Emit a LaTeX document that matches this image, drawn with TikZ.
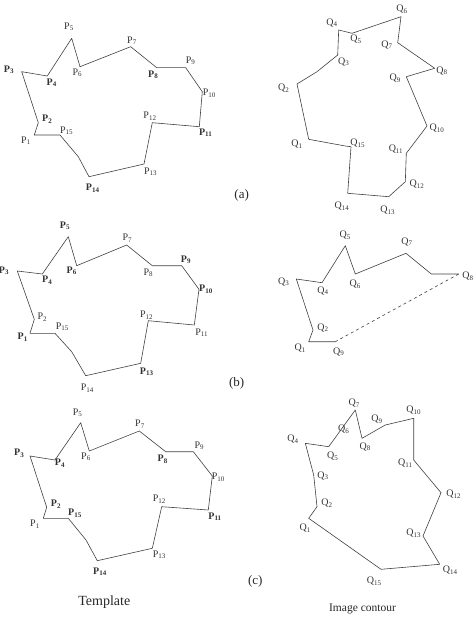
\documentclass[tikz,border=0pt]{standalone}
\usepackage{fontspec}
\setmainfont{Liberation Serif}
\newcommand\labP[1]{P\textsubscript{#1}}
\newcommand\labQ[1]{Q\textsubscript{#1}}
\begin{document}
\begin{tikzpicture}[x=1pt,y=-1pt,
  contour/.style={draw=black!75, line width=0.6pt, line join=round},
  lbl/.style={inner sep=0pt, font=\fontsize{10}{11}\selectfont, text=black!80},
  blbl/.style={lbl, font=\fontsize{10}{11}\selectfont\bfseries},
  captext/.style={inner sep=0pt, font=\fontsize{13}{14}\selectfont, text=black!85}]
\useasboundingbox (0,0) rectangle (474,623);

% ================= (a) template =================
\coordinate (aP1) at (34.3,135);
\coordinate (aP2) at (38.3,122.7);
\coordinate (aP3) at (21.7,71.7);
\coordinate (aP4) at (47.3,76);
\coordinate (aP5) at (71.7,38.3);
\coordinate (aP6) at (80,66.7);
\coordinate (aP7) at (130.7,46.7);
\coordinate (aP8) at (156.7,67.7);
\coordinate (aP9) at (185.7,67.7);
\coordinate (aP10) at (202.3,91.7);
\coordinate (aP11) at (199.3,126.7);
\coordinate (aP12) at (152.3,122.7);
\coordinate (aP13) at (144,164);
\coordinate (aP14) at (89,176.7);
\coordinate (aB) at (78.3,156.7);
\coordinate (aP15) at (60,135);
\draw[contour] (aP1) -- (aP2) -- (aP3) -- (aP4) -- (aP5) -- (aP6) -- (aP7) -- (aP8) -- (aP9) -- (aP10) -- (aP11) -- (aP12) -- (aP13) -- (aP14) -- (aB) -- (aP15) -- cycle;
\node[lbl]  (aL1)  at (26,140.7) {\labP{1}};
\node[blbl] (aL2)  at (47.3,119) {\labP{2}};
\node[blbl] (aL3)  at (9,70) {\labP{3}};
\node[blbl] (aL4)  at (51.7,82.7) {\labP{4}};
\node[lbl]  (aL5)  at (69,26.7) {\labP{5}};
\node[lbl]  (aL6)  at (77.3,72.7) {\labP{6}};
\node[lbl]  (aL7)  at (132,40.7) {\labP{7}};
\node[blbl] (aL8)  at (153.3,75) {\labP{8}};
\node[lbl]  (aL9)  at (190.7,61) {\labP{9}};
\node[lbl]  (aL10) at (209.3,93.3) {\labP{10}};
\node[blbl] (aL11) at (205.7,132.7) {\labP{11}};
\node[lbl]  (aL12) at (150,116) {\labP{12}};
\node[lbl]  (aL13) at (150.7,171.7) {\labP{13}};
\node[blbl] (aL14) at (92.7,188.3) {\labP{14}};
\node[lbl]  (aL15) at (66.7,131) {\labP{15}};

% ================= (a) image =================
\coordinate (aQ1) at (308.7,139.3);
\coordinate (aQ2) at (297,84);
\coordinate (aQB) at (317,71.7);
\coordinate (aQ3) at (337.7,55);
\coordinate (aQ4) at (338.7,30);
\coordinate (aQ5) at (352,33.3);
\coordinate (aQ6) at (401,16.7);
\coordinate (aQ7) at (397.7,42.7);
\coordinate (aQ8) at (434.7,68.3);
\coordinate (aQ9) at (406.3,76.7);
\coordinate (aQ10) at (427,126);
\coordinate (aQ11) at (406.3,153.3);
\coordinate (aQ12) at (405.3,181.7);
\coordinate (aQ13) at (388.7,196.7);
\coordinate (aQ14) at (347.7,193.3);
\coordinate (aQ15) at (351,146.7);
\coordinate (aQC) at (345.3,146);
\draw[contour] (aQ1) -- (aQ2) -- (aQB) -- (aQ3) -- (aQ4) -- (aQ5) -- (aQ6) -- (aQ7) -- (aQ8) -- (aQ9) -- (aQ10) -- (aQ11) -- (aQ12) -- (aQ13) -- (aQ14) -- (aQ15) -- (aQC) -- cycle;
\node[lbl] (aM1)  at (297,144) {\labQ{1}};
\node[lbl] (aM2)  at (283.7,88.3) {\labQ{2}};
\node[lbl] (aM3)  at (343.7,61.7) {\labQ{3}};
\node[lbl] (aM4)  at (332,22.7) {\labQ{4}};
\node[lbl] (aM5)  at (356,39.3) {\labQ{5}};
\node[lbl] (aM6)  at (402,9.3) {\labQ{6}};
\node[lbl] (aM7)  at (387,45) {\labQ{7}};
\node[lbl] (aM8)  at (442,70.7) {\labQ{8}};
\node[lbl] (aM9)  at (395.3,78.3) {\labQ{9}};
\node[lbl] (aM10) at (437,128.3) {\labQ{10}};
\node[lbl] (aM11) at (396,149.3) {\labQ{11}};
\node[lbl] (aM12) at (417,184.3) {\labQ{12}};
\node[lbl] (aM13) at (387.7,210) {\labQ{13}};
\node[lbl] (aM14) at (342,206) {\labQ{14}};
\node[lbl] (aM15) at (357.7,143.3) {\labQ{15}};
\node[captext] (capa) at (241.7,195) {(a)};

% ================= (b) template =================
\coordinate (bP1) at (30,333.3);
\coordinate (bP2) at (34.3,319.3);
\coordinate (bP3) at (17.3,271);
\coordinate (bP4) at (42.3,274);
\coordinate (bP5) at (68.3,236.7);
\coordinate (bP6) at (76.7,265.7);
\coordinate (bP7) at (126.7,245);
\coordinate (bP8) at (152.3,265.7);
\coordinate (bP9) at (181.7,265.7);
\coordinate (bP10) at (199,289.3);
\coordinate (bP11) at (194.3,325);
\coordinate (bP12) at (148.3,320.7);
\coordinate (bP13) at (140.7,363.3);
\coordinate (bP14) at (85.7,375.7);
\coordinate (bB) at (71.7,351.7);
\coordinate (bP15) at (55,333.3);
\draw[contour] (bP1) -- (bP2) -- (bP3) -- (bP4) -- (bP5) -- (bP6) -- (bP7) -- (bP8) -- (bP9) -- (bP10) -- (bP11) -- (bP12) -- (bP13) -- (bP14) -- (bB) -- (bP15) -- cycle;
\node[blbl] (bL1)  at (22.7,337.3) {\labP{1}};
\node[lbl]  (bL2)  at (42.3,317.3) {\labP{2}};
\node[blbl] (bL3)  at (4,270.7) {\labP{3}};
\node[blbl] (bL4)  at (47.3,280) {\labP{4}};
\node[blbl] (bL5)  at (65,226) {\labP{5}};
\node[blbl] (bL6)  at (71.7,271) {\labP{6}};
\node[lbl]  (bL7)  at (127.3,238.3) {\labP{7}};
\node[lbl]  (bL8)  at (148.3,272.7) {\labP{8}};
\node[blbl] (bL9)  at (186,260) {\labP{9}};
\node[blbl] (bL10) at (206,289.3) {\labP{10}};
\node[lbl]  (bL11) at (201.7,332.7) {\labP{11}};
\node[lbl]  (bL12) at (146.7,315) {\labP{12}};
\node[blbl] (bL13) at (146.7,371.7) {\labP{13}};
\node[lbl]  (bL14) at (87.3,388.3) {\labP{14}};
\node[lbl]  (bL15) at (62.3,326.7) {\labP{15}};

% ================= (b) image =================
\coordinate (bQ9) at (335.3,341.7);
\coordinate (bQ1) at (308.7,341.7);
\coordinate (bQ2) at (313,330);
\coordinate (bQ3) at (296.3,279);
\coordinate (bQ4) at (322,282.7);
\coordinate (bQ5) at (345.3,245.7);
\coordinate (bQ6) at (355.3,274);
\coordinate (bQ7) at (406,253.3);
\coordinate (bQB) at (431.3,274);
\coordinate (bQ8) at (458.7,274);
\draw[contour] (bQ9) -- (bQ1) -- (bQ2) -- (bQ3) -- (bQ4) -- (bQ5) -- (bQ6) -- (bQ7) -- (bQB) -- (bQ8);
\draw[contour, dashed] (bQ8) -- (bQ9);
\node[lbl] (bM1) at (300.3,348.3) {\labQ{1}};
\node[lbl] (bM2) at (323,327.7) {\labQ{2}};
\node[lbl] (bM3) at (283.7,281.7) {\labQ{3}};
\node[lbl] (bM4) at (323,290.7) {\labQ{4}};
\node[lbl] (bM5) at (345.3,235) {\labQ{5}};
\node[lbl] (bM6) at (355.3,284.3) {\labQ{6}};
\node[lbl] (bM7) at (407,241.7) {\labQ{7}};
\node[lbl] (bM8) at (468,276) {\labQ{8}};
\node[lbl] (bM9) at (338.7,351.7) {\labQ{9}};
\node[captext] (capb) at (236.7,383.3) {(b)};

% ================= (c) template =================
\coordinate (cP1) at (43.3,518.3);
\coordinate (cP2) at (46.7,507.3);
\coordinate (cP3) at (30,456);
\coordinate (cP4) at (55,460);
\coordinate (cP5) at (80.7,422.7);
\coordinate (cP6) at (89.3,451);
\coordinate (cP7) at (139.3,431);
\coordinate (cP8) at (165.7,451.7);
\coordinate (cP9) at (193.3,451.7);
\coordinate (cP10) at (212.3,476);
\coordinate (cP11) at (208.3,510);
\coordinate (cP12) at (161.7,506.7);
\coordinate (cP13) at (152.3,548.3);
\coordinate (cP14) at (97.3,560.7);
\coordinate (cB) at (86,540);
\coordinate (cP15) at (68.3,518.3);
\draw[contour] (cP1) -- (cP2) -- (cP3) -- (cP4) -- (cP5) -- (cP6) -- (cP7) -- (cP8) -- (cP9) -- (cP10) -- (cP11) -- (cP12) -- (cP13) -- (cP14) -- (cB) -- (cP15) -- cycle;
\node[lbl]  (cL1)  at (35,524) {\labP{1}};
\node[blbl] (cL2)  at (56,504.3) {\labP{2}};
\node[blbl] (cL3)  at (19.3,453.3) {\labP{3}};
\node[blbl] (cL4)  at (60,463.3) {\labP{4}};
\node[lbl]  (cL5)  at (77.7,412.7) {\labP{5}};
\node[lbl]  (cL6)  at (86,456.7) {\labP{6}};
\node[lbl]  (cL7)  at (140,424) {\labP{7}};
\node[blbl] (cL8)  at (162.7,459.3) {\labP{8}};
\node[lbl]  (cL9)  at (199.3,445.7) {\labP{9}};
\node[lbl]  (cL10) at (218.3,477.3) {\labP{10}};
\node[blbl] (cL11) at (215,516.7) {\labP{11}};
\node[lbl]  (cL12) at (159.3,499.3) {\labP{12}};
\node[lbl]  (cL13) at (159.3,555) {\labP{13}};
\node[blbl] (cL14) at (100,571.7) {\labP{14}};
\node[blbl] (cL15) at (75,513.3) {\labP{15}};

% ================= (c) image =================
\coordinate (cQ1) at (308.7,518.3);
\coordinate (cQ2) at (317,506.7);
\coordinate (cQ3) at (313.7,475);
\coordinate (cQ4) at (305.3,443.3);
\coordinate (cQ5) at (328.7,446.7);
\coordinate (cQ6) at (342,428.3);
\coordinate (cQ7) at (355.3,410);
\coordinate (cQ8) at (362,438.3);
\coordinate (cQ9) at (385.3,425);
\coordinate (cQ10) at (413.7,418.3);
\coordinate (cQ11) at (413.7,460);
\coordinate (cQ12) at (441,492.7);
\coordinate (cQ13) at (423,536);
\coordinate (cQ14) at (439.7,564.3);
\coordinate (cQ15) at (381,569.3);
\draw[contour] (cQ1) -- (cQ2) -- (cQ3) -- (cQ4) -- (cQ5) -- (cQ6) -- (cQ7) -- (cQ8) -- (cQ9) -- (cQ10) -- (cQ11) -- (cQ12) -- (cQ13) -- (cQ14) -- (cQ15) -- cycle;
\node[lbl] (cM1)  at (305.3,528.3) {\labQ{1}};
\node[lbl] (cM2)  at (327,503.3) {\labQ{2}};
\node[lbl] (cM3)  at (323,475.7) {\labQ{3}};
\node[lbl] (cM4)  at (293,439.3) {\labQ{4}};
\node[lbl] (cM5)  at (332.7,456) {\labQ{5}};
\node[lbl] (cM6)  at (343.7,429.3) {\labQ{6}};
\node[lbl] (cM7)  at (354.3,403.3) {\labQ{7}};
\node[lbl] (cM8)  at (365.3,446.7) {\labQ{8}};
\node[lbl] (cM9)  at (377,419.3) {\labQ{9}};
\node[lbl] (cM10) at (413.7,410) {\labQ{10}};
\node[lbl] (cM11) at (405.3,463.3) {\labQ{11}};
\node[lbl] (cM12) at (453.7,494.3) {\labQ{12}};
\node[lbl] (cM13) at (413.7,533.3) {\labQ{13}};
\node[lbl] (cM14) at (450.3,570) {\labQ{14}};
\node[lbl] (cM15) at (374.3,581) {\labQ{15}};
\node[captext] (capc) at (255.3,581.7) {(c)};

\node[captext, font=\fontsize{14}{15}\selectfont] (tmpl) at (104.3,601.7) {Template};
\node[captext, font=\fontsize{11.5}{13}\selectfont] (imgc) at (362.5,609) {Image contour};
\end{tikzpicture}
\end{document}
